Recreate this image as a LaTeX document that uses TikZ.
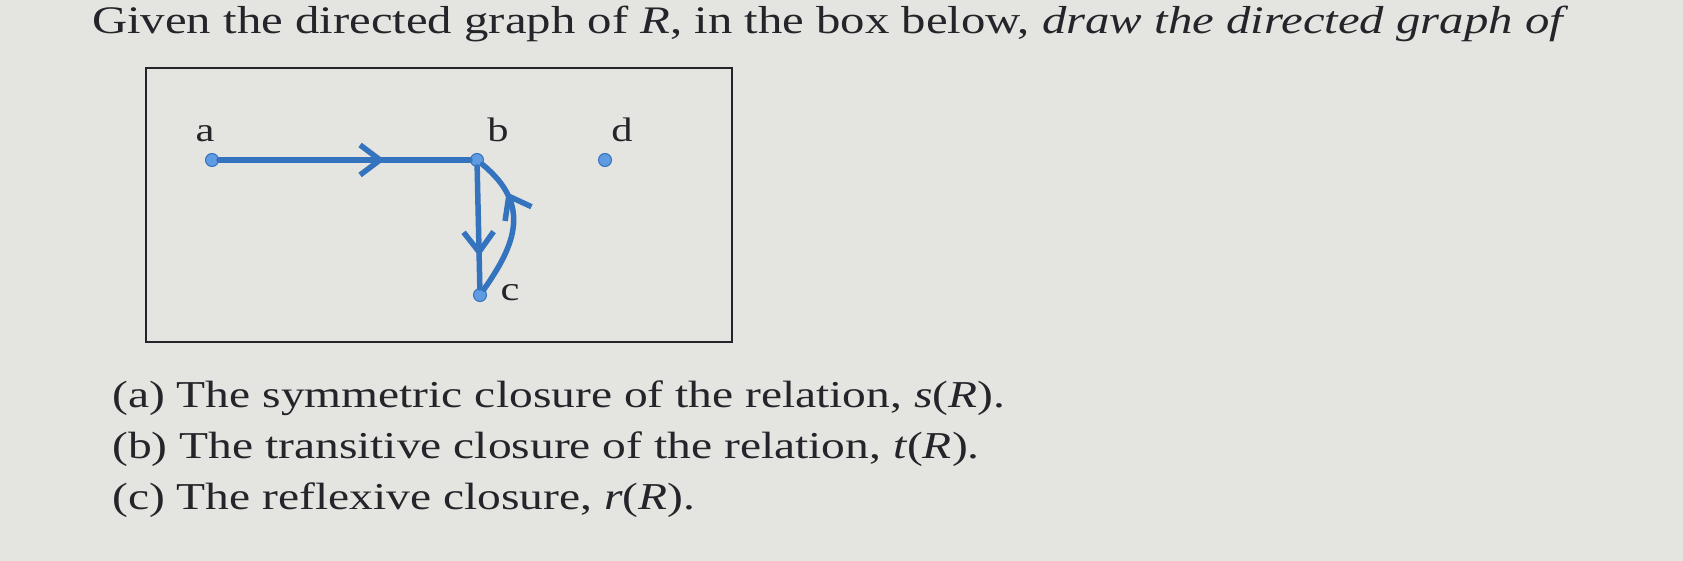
\documentclass[tikz,border=0pt]{standalone}
\usepackage{fontspec}
\setmainfont[FakeStretch=1.25]{Liberation Serif}
\usetikzlibrary{arrows.meta, decorations.markings}
\definecolor{pagegray}{RGB}{228,228,224}
\definecolor{graphblue}{RGB}{52,115,190}
\definecolor{dotblue}{RGB}{95,155,225}
\definecolor{inkgray}{RGB}{36,36,42}

\begin{document}
\begin{tikzpicture}[x=1pt, y=-1pt,
        vtx/.style={circle, fill=dotblue, draw=graphblue, line width=1pt, inner sep=0pt, minimum size=13pt},
        lbl/.style={anchor=base, text=inkgray, inner sep=0pt, font=\fontsize{34}{40}\selectfont},
        txt/.style={anchor=base west, text=inkgray, inner sep=0pt},
        edge/.style={graphblue, line width=5.5pt, line cap=round,
          decoration={markings, mark=at position #1 with {\arrow{Straight Barb[length=20pt, width=30pt]}}},
          postaction={decorate}}]
      \fill[pagegray] (0,0) rectangle (1683,561);
      % Question
      \node[txt, font=\fontsize{39}{47}\selectfont] (title) at (92,34)
        {Given the directed graph of \textit{R}, in the box below, \textit{draw the directed graph of}};
      % Box
      \draw[inkgray, line width=2.5pt] (146,68) rectangle (732,342);
      % Vertices
      \node[vtx] (a) at (212,160) {};
      \node[vtx] (b) at (477,160) {};
      \node[vtx] (c) at (480,295) {};
      \node[vtx] (d) at (605,160) {};
      \node[lbl] (la) at (205,142) {a};
      \node[lbl] (lb) at (498,142) {b};
      \node[lbl] (lc) at (510,300) {c};
      \node[lbl] (ld) at (622,142) {d};
      % Edges
      \draw[edge=0.66] (a) -- (b);
      \draw[edge=0.74] (b) -- (c);
      \draw[edge=0.74] (c) .. controls (515,245) and (532,205) .. (b);
      % Parts
      \node[txt, font=\fontsize{38}{45}\selectfont] (sr) at (112,407) {(a) The symmetric closure of the relation, \textit{s}(\textit{R}).};
      \node[txt, font=\fontsize{38}{45}\selectfont] (tr) at (112,458) {(b) The transitive closure of the relation, \textit{t}(\textit{R}).};
      \node[txt, font=\fontsize{38}{45}\selectfont] (rr) at (112,509) {(c) The reflexive closure, \textit{r}(\textit{R}).};
    \end{tikzpicture}
\end{document}
